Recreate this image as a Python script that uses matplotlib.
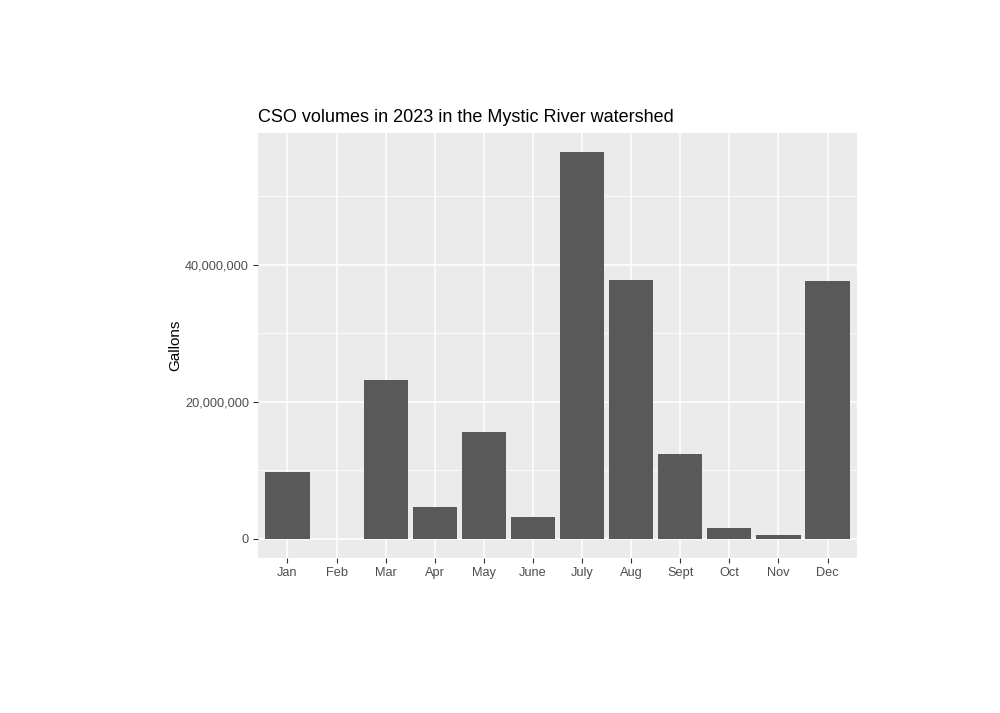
import matplotlib
matplotlib.use("Agg")
import matplotlib.pyplot as plt
from matplotlib.ticker import FuncFormatter, FixedLocator

months = ["Jan", "Feb", "Mar", "Apr", "May", "June", "July", "Aug", "Sept", "Oct", "Nov", "Dec"]
gallons = [9.8e6, 0.0, 23.2e6, 4.6e6, 15.55e6, 3.1e6, 56.4e6, 37.75e6, 12.3e6, 1.6e6, 0.53e6, 37.65e6]
title = "CSO volumes in 2023 in the Mystic River watershed"
ylabel = "Gallons"

plt.rcParams['font.family'] = ['Liberation Sans', 'DejaVu Sans']

fig = plt.figure(figsize=(10, 7.13), dpi=100)
ax = fig.add_axes([0.258, 0.2174, 0.599, 0.5961])
ax.set_facecolor('#EBEBEB')

x = list(range(1, len(months) + 1))
ax.bar(x, gallons, width=0.9, color='#595959', zorder=3)

ymax = max(gallons)
pad = 0.05 * ymax
ax.set_ylim(-pad, ymax + pad)
ax.set_xlim(0.4, len(months) + 0.6)

ax.set_xticks(x)
ax.set_xticklabels(months)
ax.yaxis.set_major_locator(FixedLocator([0, 20e6, 40e6]))
ax.yaxis.set_minor_locator(FixedLocator([10e6, 30e6, 50e6]))
ax.yaxis.set_major_formatter(FuncFormatter(lambda v, p: f"{int(v):,}"))

ax.grid(which='major', color='white', linewidth=1.1, zorder=0)
ax.grid(which='minor', axis='y', color='white', linewidth=0.55, zorder=0)
ax.set_axisbelow(True)
for s in ax.spines.values():
    s.set_visible(False)

ax.tick_params(axis='both', which='major', length=3.5, width=0.8, color='#333333',
               labelcolor='#4D4D4D', labelsize=9.2, pad=3)
ax.tick_params(axis='y', which='minor', length=0)

ax.set_ylabel(ylabel, fontsize=11, color='black', labelpad=2)
ax.set_title(title, fontsize=13, loc='left', color='black', pad=8)

fig.savefig("out.png", dpi=100, facecolor='white')
